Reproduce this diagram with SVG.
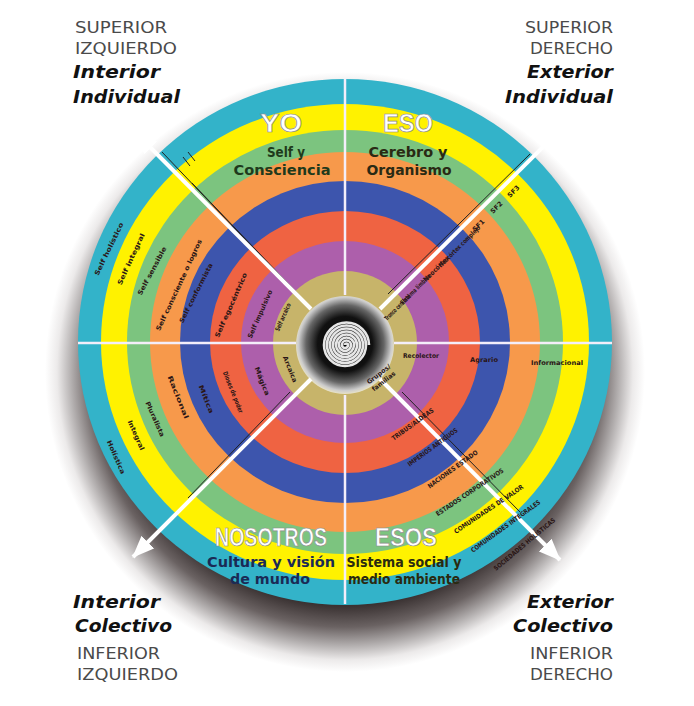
<svg xmlns="http://www.w3.org/2000/svg" width="694" height="706" viewBox="0 0 694 706">
<defs>
<radialGradient id="shadow" cx="345" cy="372" r="300" gradientUnits="userSpaceOnUse">
<stop offset="0" stop-color="#2a2a2a"/>
<stop offset="0.78" stop-color="#3a3232"/>
<stop offset="0.85" stop-color="#6a6262"/>
<stop offset="0.91" stop-color="#b0acac"/>
<stop offset="0.96" stop-color="#eceaea"/>
<stop offset="1" stop-color="#fff"/>
</radialGradient>
<radialGradient id="core" cx="345" cy="344" r="50" gradientUnits="userSpaceOnUse">
<stop offset="0" stop-color="#000"/>
<stop offset="0.55" stop-color="#111"/>
<stop offset="0.78" stop-color="#666"/>
<stop offset="0.93" stop-color="#ccc"/>
<stop offset="1" stop-color="#e8e2c8"/>
</radialGradient>
<marker id="ah" viewBox="0 0 22 18" markerWidth="22" markerHeight="18" refX="21" refY="9" orient="auto" markerUnits="userSpaceOnUse">
<path d="M0,0 L22,9 L0,18 Z" fill="#fff"/>
</marker>
<style>
.corner{font-family:"DejaVu Sans",Verdana,sans-serif;font-size:16px;fill:#4a4a4a}
.quad{font-family:"DejaVu Sans",Verdana,sans-serif;font-size:18px;font-weight:bold;font-style:italic;fill:#111}
.big{font-family:"Liberation Sans",Arial,sans-serif;font-size:25px;font-weight:bold;fill:#fff;stroke:#8a8a8a;stroke-width:0.7;text-anchor:middle}
.sub{font-family:"DejaVu Sans",Verdana,sans-serif;font-size:14px;font-weight:bold;text-anchor:middle}
.sm{font-family:"DejaVu Sans",Verdana,sans-serif;font-size:6.5px;font-weight:bold;fill:#2a1616;text-anchor:middle}
.axis{stroke:#f4eefa;stroke-width:2.5;fill:none}
.arrow{stroke:#fff;stroke-width:4;fill:none;marker-end:url(#ah)}
.ptr{stroke:#222;stroke-width:1;fill:none}
</style>
</defs>
<rect width="694" height="706" fill="#fff"/>
<ellipse cx="345" cy="372" rx="300" ry="300" fill="url(#shadow)"/>
<g id="rings">
<ellipse cx="345" cy="342" rx="267" ry="263" fill="#33b3c9"/>
<ellipse cx="345" cy="342" rx="244" ry="238" fill="#fff200"/>
<ellipse cx="345" cy="342" rx="218" ry="212" fill="#7cc47f"/>
<ellipse cx="345" cy="342" rx="195" ry="190" fill="#f7994b"/>
<ellipse cx="345" cy="342" rx="165" ry="161" fill="#3d55ad"/>
<ellipse cx="345" cy="342" rx="135" ry="131" fill="#ef6342"/>
<ellipse cx="345" cy="342" rx="104" ry="101" fill="#ad5fab"/>
<ellipse cx="345" cy="343" rx="72" ry="72" fill="#c7b46a"/>
<circle cx="345" cy="345" r="49" fill="url(#core)"/>
<path d="M345,345 A1.5,1.5 0 0 1 348,345 A3,3 0 0 1 342,345 A4.5,4.5 0 0 1 351,345 A6,6 0 0 1 339,345 A7.5,7.5 0 0 1 354,345 A9,9 0 0 1 336,345 A10.5,10.5 0 0 1 357,345 A12,12 0 0 1 333,345 A13.5,13.5 0 0 1 360,345 A15,15 0 0 1 330,345 A16.5,16.5 0 0 1 363,345 A18,18 0 0 1 327,345 A19.5,19.5 0 0 1 366,345 A21,21 0 0 1 324,345 A22.5,22.5 0 0 1 369,345" fill="none" stroke="#e6e6e6" stroke-width="2.6"/>
</g>
<g id="connectors">
<line class="axis" x1="345" y1="79" x2="345" y2="295"/>
<line class="axis" x1="345" y1="395" x2="345" y2="604"/>
<line class="axis" x1="78" y1="343" x2="296" y2="343"/>
<line class="axis" x1="394" y1="343" x2="612" y2="343"/>
<line class="ptr" x1="162" y1="152" x2="282" y2="278"/>
<line class="ptr" x1="192" y1="183" x2="300" y2="296"/>
<line class="ptr" x1="183" y1="157" x2="190" y2="166"/>
<line class="ptr" x1="188" y1="152" x2="195" y2="161"/>
<line class="ptr" x1="530" y1="154" x2="388" y2="294"/>
<line class="ptr" x1="402" y1="392" x2="520" y2="512"/>
<line class="ptr" x1="290" y1="392" x2="188" y2="498"/>
<line class="arrow" x1="311" y1="309" x2="136" y2="133"/>
<line class="arrow" x1="380" y1="309" x2="558" y2="132"/>
<line class="arrow" x1="311" y1="379" x2="133" y2="557"/>
<line class="arrow" x1="380" y1="379" x2="560" y2="560"/>
</g>
<g id="labels-ul">
<text class="sm" transform="translate(111,250) rotate(-64)" textLength="58" lengthAdjust="spacingAndGlyphs">Self holístico</text>
<text class="sm" transform="translate(133,260) rotate(-65)" textLength="56" lengthAdjust="spacingAndGlyphs">Self integral</text>
<text class="sm" transform="translate(154,272) rotate(-62)" textLength="54" lengthAdjust="spacingAndGlyphs">Self sensible</text>
<text class="sm" transform="translate(181,286) rotate(-65)" textLength="100" lengthAdjust="spacingAndGlyphs">Self consciente o logros</text>
<text class="sm" transform="translate(198,294) rotate(-63)" textLength="66" lengthAdjust="spacingAndGlyphs">Self conformista</text>
<text class="sm" transform="translate(233,306) rotate(-66)" textLength="70" lengthAdjust="spacingAndGlyphs">Self egocéntrico</text>
<text class="sm" transform="translate(262,315) rotate(-66)" textLength="52" lengthAdjust="spacingAndGlyphs">Self impulsivo</text>
<text class="sm" transform="translate(285,318) rotate(-66)" textLength="30" lengthAdjust="spacingAndGlyphs">Self arcaico</text>
</g>
<g id="labels-ur">
<text class="sm" transform="translate(399,309) rotate(-45)" textLength="34" lengthAdjust="spacingAndGlyphs">Tronco cerebral</text>
<text class="sm" transform="translate(417,291) rotate(-45)" textLength="40" lengthAdjust="spacingAndGlyphs">Sistema límbico</text>
<text class="sm" transform="translate(438,270) rotate(-45)" textLength="34" lengthAdjust="spacingAndGlyphs">Neocórtex</text>
<text class="sm" transform="translate(461,248) rotate(-45)" textLength="56" lengthAdjust="spacingAndGlyphs">Neocórtex complejo</text>
<text class="sm" transform="translate(480,227) rotate(-45)" textLength="14" lengthAdjust="spacingAndGlyphs">SF1</text>
<text class="sm" transform="translate(498,209) rotate(-45)" textLength="14" lengthAdjust="spacingAndGlyphs">SF2</text>
<text class="sm" transform="translate(515,193) rotate(-45)" textLength="14" lengthAdjust="spacingAndGlyphs">SF3</text>
</g>
<g id="labels-ll">
<text class="sm" transform="translate(114,458) rotate(66)" textLength="36" lengthAdjust="spacingAndGlyphs">Holística</text>
<text class="sm" transform="translate(134,436) rotate(66)" textLength="32" lengthAdjust="spacingAndGlyphs">Integral</text>
<text class="sm" transform="translate(153,420) rotate(66)" textLength="38" lengthAdjust="spacingAndGlyphs">Pluralista</text>
<text class="sm" transform="translate(176,398) rotate(68)" textLength="46" lengthAdjust="spacingAndGlyphs">Racional</text>
<text class="sm" transform="translate(204,400) rotate(68)" textLength="30" lengthAdjust="spacingAndGlyphs">Mítica</text>
<text class="sm" transform="translate(231,393) rotate(68)" textLength="44" lengthAdjust="spacingAndGlyphs">Dioses de poder</text>
<text class="sm" transform="translate(260,382) rotate(68)" textLength="30" lengthAdjust="spacingAndGlyphs">Mágica</text>
<text class="sm" transform="translate(288,370) rotate(68)" textLength="28" lengthAdjust="spacingAndGlyphs">Arcaica</text>
</g>
<g id="labels-lr">
<text class="sm" transform="translate(380,376) rotate(-38)" textLength="28" lengthAdjust="spacingAndGlyphs">Grupos/</text>
<text class="sm" transform="translate(385,383) rotate(-38)" textLength="28" lengthAdjust="spacingAndGlyphs">familias</text>
<text class="sm" transform="translate(414,426) rotate(-36)" textLength="50" lengthAdjust="spacingAndGlyphs">TRIBUS/ALDEAS</text>
<text class="sm" transform="translate(434,449) rotate(-36)" textLength="60" lengthAdjust="spacingAndGlyphs">IMPERIOS ANTIGUOS</text>
<text class="sm" transform="translate(454,471) rotate(-36)" textLength="60" lengthAdjust="spacingAndGlyphs">NACIONES ESTADO</text>
<text class="sm" transform="translate(471,494) rotate(-34)" textLength="80" lengthAdjust="spacingAndGlyphs">ESTADOS CORPORATIVOS</text>
<text class="sm" transform="translate(490,511) rotate(-34)" textLength="82" lengthAdjust="spacingAndGlyphs">COMUNIDADES DE VALOR</text>
<text class="sm" transform="translate(507,528) rotate(-36)" textLength="84" lengthAdjust="spacingAndGlyphs">COMUNIDADES INTEGRALES</text>
<text class="sm" transform="translate(526,546) rotate(-40)" textLength="78" lengthAdjust="spacingAndGlyphs">SOCIEDADES HOLÍSTICAS</text>
<text class="sm" x="421" y="358" textLength="36" lengthAdjust="spacingAndGlyphs">Recolector</text>
<text class="sm" x="484" y="362" textLength="28" lengthAdjust="spacingAndGlyphs">Agrario</text>
<text class="sm" x="557" y="365" textLength="52" lengthAdjust="spacingAndGlyphs">Informacional</text>
</g>
<g id="node-ul">
<text class="corner" x="75" y="33" textLength="92" lengthAdjust="spacingAndGlyphs">SUPERIOR</text>
<text class="corner" x="75" y="54" textLength="102" lengthAdjust="spacingAndGlyphs">IZQUIERDO</text>
<text class="quad" x="73" y="78" textLength="87" lengthAdjust="spacingAndGlyphs">Interior</text>
<text class="quad" x="73" y="103" textLength="107" lengthAdjust="spacingAndGlyphs">Individual</text>
</g>
<g id="node-ur">
<text class="corner" x="525" y="33" textLength="88" lengthAdjust="spacingAndGlyphs">SUPERIOR</text>
<text class="corner" x="530" y="54" textLength="83" lengthAdjust="spacingAndGlyphs">DERECHO</text>
<text class="quad" x="527" y="78" textLength="86" lengthAdjust="spacingAndGlyphs">Exterior</text>
<text class="quad" x="505" y="103" textLength="108" lengthAdjust="spacingAndGlyphs">Individual</text>
</g>
<g id="node-ll">
<text class="quad" x="73" y="608" textLength="87" lengthAdjust="spacingAndGlyphs">Interior</text>
<text class="quad" x="75" y="632" textLength="97" lengthAdjust="spacingAndGlyphs">Colectivo</text>
<text class="corner" x="77" y="659" textLength="83" lengthAdjust="spacingAndGlyphs">INFERIOR</text>
<text class="corner" x="77" y="680" textLength="101" lengthAdjust="spacingAndGlyphs">IZQUIERDO</text>
</g>
<g id="node-lr">
<text class="quad" x="527" y="608" textLength="86" lengthAdjust="spacingAndGlyphs">Exterior</text>
<text class="quad" x="513" y="632" textLength="100" lengthAdjust="spacingAndGlyphs">Colectivo</text>
<text class="corner" x="530" y="659" textLength="83" lengthAdjust="spacingAndGlyphs">INFERIOR</text>
<text class="corner" x="530" y="680" textLength="83" lengthAdjust="spacingAndGlyphs">DERECHO</text>
</g>
<g id="node-yo">
<text class="big" x="281" y="132" textLength="42" lengthAdjust="spacingAndGlyphs">YO</text>
<text class="sub" x="286" y="157" fill="#1f3a1c" textLength="38" lengthAdjust="spacingAndGlyphs">Self y</text>
<text class="sub" x="282" y="175" fill="#1f3a1c" textLength="97" lengthAdjust="spacingAndGlyphs">Consciencia</text>
</g>
<g id="node-eso">
<text class="big" x="408" y="132" textLength="50" lengthAdjust="spacingAndGlyphs">ESO</text>
<text class="sub" x="408" y="157" fill="#2a2a14" textLength="79" lengthAdjust="spacingAndGlyphs">Cerebro y</text>
<text class="sub" x="409" y="175" fill="#2a2a14" textLength="85" lengthAdjust="spacingAndGlyphs">Organismo</text>
</g>
<g id="node-nosotros">
<text class="big" x="271" y="546" textLength="112" lengthAdjust="spacingAndGlyphs">NOSOTROS</text>
<text class="sub" x="271" y="567" fill="#1a2a55" textLength="128" lengthAdjust="spacingAndGlyphs">Cultura y visión</text>
<text class="sub" x="270" y="584" fill="#1a2a55" textLength="80" lengthAdjust="spacingAndGlyphs">de mundo</text>
</g>
<g id="node-esos">
<text class="big" x="406" y="546" textLength="62" lengthAdjust="spacingAndGlyphs">ESOS</text>
<text class="sub" x="404" y="567" fill="#2a2a10" textLength="115" lengthAdjust="spacingAndGlyphs">Sistema social y</text>
<text class="sub" x="404" y="584" fill="#2a2a10" textLength="112" lengthAdjust="spacingAndGlyphs">medio ambiente</text>
</g>
</svg>
